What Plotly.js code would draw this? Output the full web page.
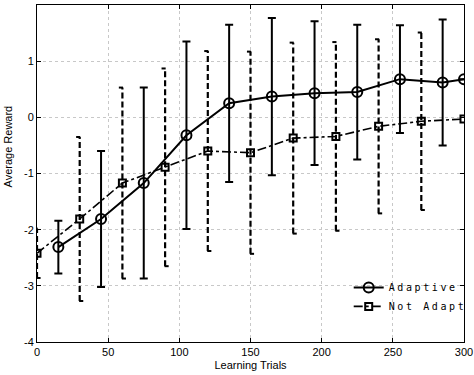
<!DOCTYPE html>
<html>
<head>
<meta charset="utf-8">
<script src="https://cdn.plot.ly/plotly-3.0.1.min.js"></script>
<style>
html,body{margin:0;padding:0;background:#fff;}
#chart{width:474px;height:375px;}
.legendtext{letter-spacing:2.6px;}
</style>
</head>
<body>
<div id="chart"></div>
<script>
// Data
const adaptiveX = [15, 45, 75, 105, 135, 165, 195, 225, 255, 285, 300];
const adaptiveY = [-2.31, -1.81, -1.17, -0.32, 0.25, 0.37, 0.43, 0.45, 0.68, 0.62, 0.68];
const adaptiveErr = [0.47, 1.21, 1.70, 1.67, 1.40, 1.40, 1.28, 1.20, 0.96, 1.12, null];

const notAdaptX = [0, 30, 60, 90, 120, 150, 180, 210, 240, 270, 300];
const notAdaptY = [-2.42, -1.81, -1.17, -0.89, -0.60, -0.63, -0.37, -0.34, -0.16, -0.07, -0.03];
const notAdaptErr = [0.44, 1.46, 1.70, 1.76, 1.78, 1.80, 1.70, 1.68, 1.55, 1.58, null];

const xTicks = [0, 50, 100, 150, 200, 250, 300];
const yTicks = [-4, -3, -2, -1, 0, 1, 2];

// Build dashed error bar segments for "Not Adapt" from the data
const ebX = [], ebY = [], capX = [], capY = [];
const capHalf = 2.5;
notAdaptX.forEach((x, i) => {
  const e = notAdaptErr[i];
  if (e == null) return;
  const lo = notAdaptY[i] - e, hi = notAdaptY[i] + e;
  ebX.push(x, x, null); ebY.push(lo, hi, null);
  capX.push(x - capHalf, x + 0.4, null); capY.push(hi, hi, null);
  capX.push(x - 0.4, x + capHalf, null); capY.push(lo, lo, null);
});

const traces = [
  {
    x: ebX, y: ebY, mode: 'lines', showlegend: false, hoverinfo: 'skip',
    line: {color: '#000', width: 2.2, dash: '6px,3px'}, connectgaps: false
  },
  {
    x: capX, y: capY, mode: 'lines', showlegend: false, hoverinfo: 'skip',
    line: {color: '#000', width: 2}, connectgaps: false
  },
  {
    x: adaptiveX, y: adaptiveY, name: 'Adaptive', mode: 'lines+markers',
    line: {color: '#000', width: 2},
    marker: {symbol: 'circle-open', size: 10, color: '#000', line: {width: 2, color: '#000'}},
    error_y: {type: 'data', array: adaptiveErr, visible: true, color: '#000', thickness: 2, width: 4}
  },
  {
    x: notAdaptX, y: notAdaptY, name: 'Not Adapt', mode: 'lines+markers',
    line: {color: '#000', width: 1.6, dash: 'dashdot'},
    marker: {symbol: 'square-open', size: 7, color: '#000', line: {width: 2, color: '#000'}}
  }
];

const axisCommon = {
  showline: true, mirror: 'ticks', linecolor: '#000', linewidth: 1,
  ticks: 'inside', ticklen: 4, tickcolor: '#000',
  showgrid: true, gridcolor: '#c8c8c8', griddash: 'dot', gridwidth: 1,
  zeroline: false,
  tickfont: {family: 'Liberation Sans, Arial, sans-serif', size: 11, color: '#000'}
};

const layout = {
  width: 474, height: 375,
  margin: {l: 37, r: 10, t: 5, b: 33, autoexpand: false},
  paper_bgcolor: '#fff', plot_bgcolor: '#fff',
  showlegend: true,
  xaxis: Object.assign({}, axisCommon, {
    range: [0, 300], tickvals: xTicks, ticktext: xTicks.map(String),
    title: {text: 'Learning Trials', standoff: 4,
      font: {family: 'Liberation Sans, Arial, sans-serif', size: 11, color: '#000'}}
  }),
  yaxis: Object.assign({}, axisCommon, {
    range: [-4, 2], tickvals: yTicks, ticktext: yTicks.map(String)
  }),
  annotations: [{
    text: 'Average Reward', textangle: -90, xref: 'paper', yref: 'paper',
    x: -0.068, y: 0.58, xanchor: 'center', yanchor: 'middle', showarrow: false,
    font: {family: 'Liberation Sans, Arial, sans-serif', size: 11, color: '#000'}
  }],
  legend: {
    x: 0.73, y: 0.205, xanchor: 'left', yanchor: 'top',
    bgcolor: 'rgba(0,0,0,0)', borderwidth: 0,
    itemwidth: 30, tracegroupgap: 0,
    font: {family: 'DejaVu Sans Mono, Liberation Mono, monospace', size: 10, color: '#000'}
  }
};

Plotly.newPlot('chart', traces, layout, {staticPlot: true, displayModeBar: false});
</script>
</body>
</html>
